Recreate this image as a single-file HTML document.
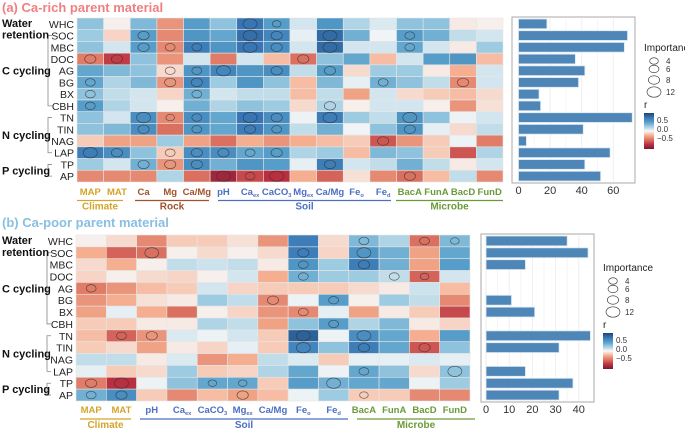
<!DOCTYPE html>
<html><head><meta charset="utf-8"><style>
body{margin:0;background:#fff;}
svg{display:block;font-family:"Liberation Sans",Arial,sans-serif;}
</style></head><body>
<svg id="fig" width="685" height="430" viewBox="0 0 685 430"></svg>
<script>
const rowsLabels=["WHC","SOC","MBC","DOC","AG","BG","BX","CBH","TN","TIN","NAG","LAP","TP","AP"];
const colsA=["MAP","MAT","Ca","Mg","Ca/Mg","pH","Ca_ex","CaCO_3","Mg_ex","Ca/Mg","Fe_o","Fe_d","BacA","FunA","BacD","FunD"];
const colColA=["c","c","r","r","r","s","s","s","s","s","s","s","m","m","m","m"];
const colsB=["MAP","MAT","pH","Ca_ex","CaCO_3","Mg_ex","Ca/Mg","Fe_o","Fe_d","BacA","FunA","BacD","FunD"];
const colColB=["c","c","s","s","s","s","s","s","s","m","m","m","m"];
const rA=[
[0.3,-0.03,0.35,-0.35,0.5,0.3,0.75,0.5,0.1,0.55,0.2,0.08,0.3,0.3,-0.05,-0.03],
[0.25,-0.12,0.5,-0.4,0.55,0.45,0.78,0.65,0.05,0.8,0.4,0.02,0.5,0.4,0.15,0.1],
[0.3,0.1,0.5,-0.4,0.7,0.55,0.75,0.6,0.1,0.8,0.1,0.1,0.45,0.1,-0.05,0.25],
[-0.45,-0.7,0.3,-0.35,0.1,-0.45,0.1,-0.2,-0.5,0.3,0.45,-0.2,0.1,0.5,0.55,-0.2],
[0.45,0.35,0.3,-0.1,0.55,0.65,0.55,0.6,0.15,0.5,-0.1,0.25,0.25,-0.05,-0.25,0.1],
[0.45,0.2,0.35,-0.35,0.65,0.25,0.55,0.3,-0.2,0.35,0.05,0.4,0.3,0.15,-0.4,0.1],
[0.3,0.15,0.1,-0.12,0.4,0.1,0.15,0.15,-0.2,0.15,-0.3,0.1,-0.1,-0.15,-0.2,-0.1],
[0.5,0.2,0.1,-0.03,0.4,0.2,0.3,0.25,-0.1,0.2,-0.03,0.1,0.1,-0.03,-0.35,-0.08],
[0.3,0.1,0.6,-0.4,0.6,0.45,0.75,0.6,0.03,0.7,0.25,0.15,0.55,0.3,0.03,0.1],
[0.3,0.35,0.6,-0.5,0.55,0.45,0.7,0.55,0.15,0.4,0.02,0.3,0.55,0.05,-0.1,0.15],
[-0.15,-0.3,-0.3,0.25,-0.3,-0.5,-0.25,-0.35,-0.25,-0.2,-0.15,-0.6,-0.35,-0.15,0.03,-0.45],
[0.7,0.6,0.3,-0.15,0.6,0.6,0.45,0.5,0.2,0.25,-0.2,0.35,0.3,-0.15,-0.6,0.2],
[0.25,0.1,0.4,-0.35,0.6,0.4,0.55,0.5,0.05,0.7,0.1,0.15,0.4,0.15,-0.05,0.1],
[-0.4,-0.4,-0.4,0.2,-0.5,-0.85,-0.65,-0.75,-0.25,-0.55,-0.08,-0.4,-0.5,-0.2,0.15,-0.4]];
const impA=[[0,6,12],[0,7,4],[1,2,8],[1,6,12],[1,7,8],[1,9,12],[1,12,6],[2,2,8],[2,3,6],[2,4,6],[2,6,12],[2,7,8],[2,9,12],[2,12,6],
[3,0,8],[3,1,8],[3,8,8],[4,3,6],[4,4,6],[4,5,12],[4,7,8],[4,9,8],[5,0,6],[5,3,8],[5,4,8],[5,11,6],[5,14,8],[6,0,6],[6,4,6],[7,0,6],[7,9,8],
[8,2,12],[8,3,4],[8,4,6],[8,6,12],[8,7,8],[8,9,12],[8,12,12],[9,2,8],[9,4,6],[9,6,8],[9,7,6],[9,12,8],[10,11,8],
[11,0,12],[11,1,8],[11,3,6],[11,4,8],[11,5,8],[11,6,6],[11,7,8],[12,2,8],[12,3,8],[12,4,8],[12,9,8],[13,5,12],[13,6,6],[13,7,12],[13,12,8]];
const rB=[
[-0.03,-0.1,-0.4,-0.15,-0.15,-0.08,-0.35,0.7,-0.1,0.35,0.2,-0.5,0.35],
[-0.25,-0.55,-0.5,-0.03,-0.1,-0.03,-0.1,0.7,-0.12,0.55,0.4,-0.3,0.45],
[-0.1,-0.25,-0.03,0.15,0.12,0.15,-0.05,0.55,0.25,0.7,0.4,-0.3,0.5],
[-0.12,-0.03,-0.1,-0.12,-0.03,0.1,-0.25,0.4,0.25,0.25,0.15,-0.55,0.1],
[-0.45,-0.35,-0.2,-0.15,0.1,-0.12,-0.15,-0.15,-0.15,-0.1,-0.05,0.12,-0.2],
[-0.35,-0.25,-0.08,-0.05,0.25,0.15,-0.4,0.03,0.5,-0.03,0.25,0.15,-0.4],
[-0.3,0.05,-0.25,-0.5,-0.03,-0.12,-0.35,-0.4,0.05,-0.3,-0.05,-0.15,-0.65],
[-0.15,-0.15,-0.05,-0.05,0.2,0.15,-0.3,0.3,0.5,0.2,0.35,-0.05,-0.12],
[-0.2,-0.55,-0.35,0.08,0.03,0.1,-0.15,0.85,0.03,0.6,0.45,-0.25,0.5],
[-0.15,-0.1,-0.3,-0.05,-0.12,0.05,-0.15,0.65,0.3,0.7,0.45,-0.6,0.3],
[0.15,0.15,-0.05,0.08,-0.35,-0.25,0.15,0.08,-0.15,0.05,0.05,0.08,0.05],
[0.05,-0.15,-0.1,0.25,-0.15,-0.12,0.2,0.45,0.03,0.45,0.3,-0.1,0.3],
[-0.45,-0.75,0.03,0.3,0.45,0.45,-0.15,0.5,0.4,0.45,0.45,0.03,0.25],
[0.4,0.6,-0.15,-0.4,-0.2,-0.3,-0.2,0.03,0.25,-0.15,-0.15,-0.4,-0.4]];
const impB=[[0,9,6],[0,11,6],[0,12,4],[1,2,12],[1,7,8],[1,9,12],[2,7,6],[2,9,8],[3,7,6],[3,10,6],[3,11,4],[4,0,6],[5,6,8],[5,8,6],[6,7,6],[7,8,6],
[8,1,6],[8,2,8],[8,7,12],[8,9,12],[9,7,12],[9,9,8],[9,11,8],[11,9,6],[11,12,12],[12,0,8],[12,1,12],[12,4,4],[12,5,4],[12,8,12],[13,0,6],[13,1,8],[13,5,8],[13,9,4]];
const barsA=[18,69,67,36,42,38,13,14,72,41,5,58,42,52];
const barsB=[35,44,17,0,0,11,21,0,45,31.5,0,17,37.5,31.5];
const ticksA=[0,20,40,60];
const ticksB=[0,10,20,30,40];
const impLevels=[4,6,8,12];

const NS="http://www.w3.org/2000/svg";
const svg=document.getElementById('fig');
function mk(tag,attrs,parent){const e=document.createElementNS(NS,tag);for(const k in attrs)e.setAttribute(k,attrs[k]);(parent||svg).appendChild(e);return e;}
const stops=[[-1,[103,0,31]],[-0.75,[178,24,43]],[-0.5,[214,96,77]],[-0.25,[244,165,130]],[0,[247,247,247]],[0.25,[146,197,222]],[0.5,[67,147,195]],[0.75,[33,102,172]],[1,[5,48,97]]];
function col(v){v=Math.max(-1,Math.min(1,v));for(let i=0;i<stops.length-1;i++){const a=stops[i],b=stops[i+1];if(v<=b[0]){const t=(v-a[0])/(b[0]-a[0]);const c=a[1].map((x,j)=>Math.round((x+(b[1][j]-x)*t)*0.9+255*0.1));return `rgb(${c[0]},${c[1]},${c[2]})`;}}}
const gcol={c:"#d4a52c",r:"#a0522d",s:"#4b6fc4",m:"#6a9a3a"};
function impR(s){return {rx:3+s*0.33,ry:2.3+s*0.24};}
function label(txt,x,y,fill,size,weight,anchor,parent){const t=mk('text',{x:x,y:y,fill:fill,'font-size':size,'font-weight':weight||'normal','text-anchor':anchor||'middle'},parent);
 const m=txt.match(/^(.*)_(.*)$/);if(m){t.appendChild(document.createTextNode(m[1]));const s=mk('tspan',{'font-size':size*0.6,dy:2},t);s.textContent=m[2];}else t.textContent=txt;return t;}

function panel(o){
 const g=mk('g',{});
 
 
 const nc=o.cols.length,cw=(o.x1-o.x0)/nc,rh=(o.y1-o.y0)/14;
 const xs=j=>o.x0+j*cw, ys=i=>o.y0+i*rh;
 o.r.forEach((row,i)=>row.forEach((v,j)=>{const c=mk('rect',{x:xs(j),y:ys(i),width:cw,height:rh,fill:col(v),stroke:'#e6e6e6','stroke-width':0.6},g);
  
  }));
 o.imp.forEach(([i,j,s])=>{const r=impR(s);const e=mk('ellipse',{cx:xs(j)+cw/2,cy:ys(i)+rh/2,rx:r.rx,ry:r.ry,fill:'none',stroke:'#333','stroke-width':0.7,'stroke-opacity':0.75},g);
  
  });
 rowsLabels.forEach((l,i)=>{const t=label(l,o.x0-3,ys(i)+rh/2+4,'#222',10.5,'normal','end',g);});
 o.cols.forEach((l,j)=>{const t=label(l,xs(j)+cw/2,o.labY,gcol[o.cc[j]],9.5,'bold','middle',g);});
 o.groups.forEach(([n,a,b,k])=>{mk('line',{x1:a,x2:b,y1:o.lineY,y2:o.lineY,stroke:gcol[k],'stroke-width':1.2},g);const t=label(n,(a+b)/2,o.lineY+9,gcol[k],10,'bold','middle',g);});
 const bx=o.x0-29;
 [["C cycling",1,7],["N cycling",8,11],["P cycling",12,13]].forEach(([n,a,b])=>{const y0=ys(a)+rh/2,y1=ys(b)+rh/2;mk('path',{d:`M${bx+4},${y0}H${bx}V${y1}H${bx+4}`,fill:'none',stroke:'#888','stroke-width':0.8},g);
  const t=label(n,2,(y0+y1)/2+4,'#111',11,'bold','start',g);});
 label("Water",2,ys(0)+rh/2+3,'#111',11,'bold','start',g);label("retention",2,ys(1)+rh/2+3,'#111',11,'bold','start',g);
 const bp=mk('g',{});
 mk('rect',{x:o.bx0,y:o.y0-1,width:o.bx1-o.bx0,height:o.y1-o.y0+2,fill:'#fff',stroke:'#aaa','stroke-width':1},bp);
 const bxs=v=>o.bzero+v*o.bscale;
 o.ticks.forEach(t=>{mk('line',{x1:bxs(t),x2:bxs(t),y1:o.y0,y2:o.y1,stroke:'#eee'},bp);label(String(t),bxs(t),o.y1+12,'#333',11,'normal','middle',bp);
  if(t<o.ticks[o.ticks.length-1])mk('line',{x1:bxs(t+(o.ticks[1]-o.ticks[0])/2),x2:bxs(t+(o.ticks[1]-o.ticks[0])/2),y1:o.y0,y2:o.y1,stroke:'#f5f5f5'},bp);});
 o.bars.forEach((v,i)=>{if(v<=0)return;const b=mk('rect',{x:bxs(0),y:ys(i)+1,width:bxs(v)-bxs(0),height:rh-2,fill:'#4f86b8',stroke:'#dce8f2','stroke-width':0.8},bp);
  
  });
 const lg=mk('g',{});
 label("Importance",o.lx,o.ly,'#222',10,'normal','start',lg);
 let cy=o.ly+10;
 impLevels.forEach((s,k)=>{const r=impR(s);mk('ellipse',{cx:o.lx+10,cy:cy,rx:r.rx,ry:r.ry,fill:'none',stroke:'#444','stroke-width':0.7},lg);label(String(s),o.lx+22,cy+3,'#333',8,'normal','start',lg);cy+= [8,11,12,0][k];});
 const ry=o.ly+57;label("r",o.lx,ry,'#222',10,'normal','start',lg);
 const gid='grad'+o.name;const d=mk('defs',{},lg);const gr=mk('linearGradient',{id:gid,x1:0,y1:1,x2:0,y2:0},d);
 for(let k=0;k<=8;k++){const v=-1+k*0.25;mk('stop',{offset:(k/8),'stop-color':col(v)},gr);}
 mk('rect',{x:o.lx,y:ry+5,width:10,height:36,fill:`url(#${gid})`},lg);
 [[0.5,ry+15],[0,ry+24],[-0.5,ry+33]].forEach(([v,y])=>label(v===0?"0.0":(v>0?"0.5":"\u22120.5"),o.lx+13,y,'#333',8,'normal','start',lg));
}
mk('text',{x:2,y:12,fill:'#f08080','font-size':13,'font-weight':'bold'}).textContent="(a) Ca-rich parent material";
mk('text',{x:2,y:227,fill:'#88bfe3','font-size':13,'font-weight':'bold'}).textContent="(b) Ca-poor parent material";
panel({name:'panel-a',cols:colsA,cc:colColA,r:rA,imp:impA,x0:77,x1:503,y0:18,y1:182,labY:195,lineY:200.5,
 groups:[["Climate",77,123,'c'],["Rock",135,209,'r'],["Soil",218,391,'s'],["Microbe",396,503,'m']],
 bx0:512,bx1:635,bzero:518.5,bscale:1.58,ticks:ticksA,bars:barsA,lx:644,ly:51});
panel({name:'panel-b',cols:colsB,cc:colColB,r:rB,imp:impB,x0:76,x1:470,y0:235,y1:401,labY:413,lineY:419,
 groups:[["Climate",80,131,'c'],["Soil",140,348,'s'],["Microbe",357,475,'m']],
 bx0:481,bx1:594,bzero:486,bscale:2.32,ticks:ticksB,bars:barsB,lx:603,ly:271});
</script>
</body></html>
